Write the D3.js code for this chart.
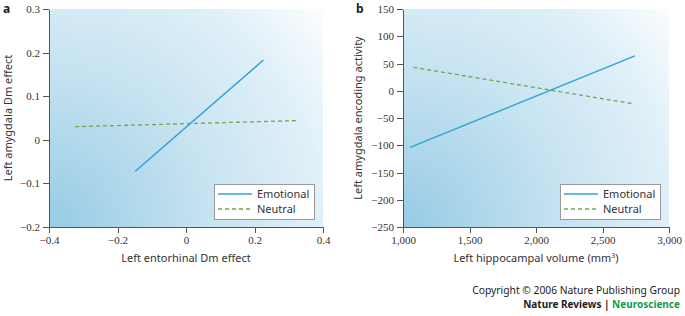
<!DOCTYPE html>
<html>
<head>
<meta charset="utf-8">
<script src="https://cdn.jsdelivr.net/npm/d3@7"></script>
<style>
  body { margin: 0; background: #fff; }
  .axis path, .axis line { stroke: #555; stroke-width: 1; shape-rendering: crispEdges; }
  .axis text { font-family: "Liberation Serif", serif; font-size: 11px; fill: #333; }
  .title { font-family: "Noto Sans", sans-serif; font-size: 11px; fill: #333; }
  .legend text { font-family: "Noto Sans", sans-serif; font-size: 11px; fill: #333; }
</style>
</head>
<body>
<svg id="chart" width="685" height="316"></svg>
<script>
  // panel a
  var aXTicks = [-0.4, -0.2, 0, 0.2, 0.4];
  var aYTicks = [-0.2, -0.1, 0, 0.1, 0.2, 0.3];
  var aEmotionalX = [-0.148, 0.226];
  var aEmotionalY = [-0.072, 0.183];
  var aNeutralX = [-0.324, 0.321];
  var aNeutralY = [0.030, 0.044];

  // panel b
  var bXTicks = [1000, 1500, 2000, 2500, 3000];
  var bYTicks = [-250, -200, -150, -100, -50, 0, 50, 100, 150];
  var bEmotionalX = [1053, 2744];
  var bEmotionalY = [-104, 64];
  var bNeutralX = [1078, 2732];
  var bNeutralY = [43, -24];

  var seriesNames = ['Emotional', 'Neutral'];

  const COLOR_EMO = '#2fa4d4';
  const COLOR_NEU = '#6fa84e';

  var svg = d3.select('#chart');

  function drawPanel(cfg) {
    var x = d3.scaleLinear().domain(cfg.xDomain).range([cfg.left, cfg.right]);
    var y = d3.scaleLinear().domain(cfg.yDomain).range([cfg.bottom, cfg.top]);

    var grad = svg.append('defs').append('radialGradient')
      .attr('id', 'bg-' + cfg.id)
      .attr('gradientUnits', 'userSpaceOnUse')
      .attr('cx', cfg.left).attr('cy', cfg.bottom)
      .attr('r', 360);
    grad.append('stop').attr('offset', 0).attr('stop-color', '#97cbe5');
    grad.append('stop').attr('offset', 0.45).attr('stop-color', '#c7e3f1');
    grad.append('stop').attr('offset', 0.75).attr('stop-color', '#e0f0f8');
    grad.append('stop').attr('offset', 1).attr('stop-color', '#ffffff');

    svg.append('rect')
      .attr('x', cfg.left).attr('y', cfg.top)
      .attr('width', cfg.right - cfg.left)
      .attr('height', cfg.bottom - cfg.top)
      .style('fill', 'url(#bg-' + cfg.id + ')');

    svg.append('g')
      .attr('class', 'axis')
      .attr('transform', 'translate(0,' + cfg.bottom + ')')
      .call(d3.axisBottom(x).tickValues(cfg.xTicks).tickFormat(cfg.xFormat)
        .tickSize(6).tickSizeOuter(0).tickPadding(3));

    svg.append('g')
      .attr('class', 'axis')
      .attr('transform', 'translate(' + cfg.left + ',0)')
      .call(d3.axisLeft(y).tickValues(cfg.yTicks).tickFormat(cfg.yFormat)
        .tickSize(6).tickSizeOuter(0).tickPadding(3));

    var line = d3.line()
      .x(function (d) { return x(d[0]); })
      .y(function (d) { return y(d[1]); });

    svg.append('path')
      .datum(d3.zip(cfg.neuX, cfg.neuY))
      .attr('d', line)
      .style('fill', 'none')
      .style('stroke', COLOR_NEU)
      .style('stroke-width', 1.3)
      .style('stroke-dasharray', '4,3');

    svg.append('path')
      .datum(d3.zip(cfg.emoX, cfg.emoY))
      .attr('d', line)
      .style('fill', 'none')
      .style('stroke', COLOR_EMO)
      .style('stroke-width', 1.5);

    // panel letter
    svg.append('text')
      .attr('x', cfg.letterX).attr('y', 13)
      .style('font-family', '"Noto Sans", sans-serif')
      .style('font-weight', 'bold')
      .style('font-size', '12px')
      .style('fill', '#222')
      .text(cfg.id);

    svg.append('text')
      .attr('class', 'title')
      .attr('x', (cfg.left + cfg.right) / 2)
      .attr('y', 262)
      .attr('text-anchor', 'middle')
      .html(cfg.xTitle);

    svg.append('text')
      .attr('class', 'title')
      .attr('transform', 'translate(' + cfg.yTitleX + ',' + ((cfg.top + cfg.bottom) / 2) + ') rotate(-90)')
      .attr('text-anchor', 'middle')
      .text(cfg.yTitle);

    // legend
    var lg = svg.append('g').attr('class', 'legend');
    lg.append('rect')
      .attr('x', cfg.right - 109).attr('y', 184)
      .attr('width', 100).attr('height', 35)
      .style('fill', '#fff')
      .style('stroke', '#999')
      .style('stroke-width', 1)
      .style('shape-rendering', 'crispEdges');
    seriesNames.forEach(function (name, i) {
      var ly = 194 + i * 15;
      lg.append('line')
        .attr('x1', cfg.right - 105).attr('x2', cfg.right - 71)
        .attr('y1', ly).attr('y2', ly)
        .style('stroke', i === 0 ? COLOR_EMO : COLOR_NEU)
        .style('stroke-width', i === 0 ? 1.5 : 1.3)
        .style('stroke-dasharray', i === 0 ? null : '4,3');
      lg.append('text')
        .attr('x', cfg.right - 66).attr('y', ly + 4)
        .text(name);
    });
  }

  drawPanel({
    id: 'a', left: 49, right: 323, top: 9, bottom: 227, letterX: 3, yTitleX: 12,
    xDomain: [-0.4, 0.4], yDomain: [-0.2, 0.3],
    xTicks: aXTicks, yTicks: aYTicks,
    xFormat: d3.format(''), yFormat: d3.format(''),
    emoX: aEmotionalX, emoY: aEmotionalY, neuX: aNeutralX, neuY: aNeutralY,
    xTitle: 'Left entorhinal Dm effect', yTitle: 'Left amygdala Dm effect'
  });

  drawPanel({
    id: 'b', left: 403, right: 669, top: 9, bottom: 227, letterX: 356, yTitleX: 362,
    xDomain: [1000, 3000], yDomain: [-250, 150],
    xTicks: bXTicks, yTicks: bYTicks,
    xFormat: d3.format(','), yFormat: d3.format(''),
    emoX: bEmotionalX, emoY: bEmotionalY, neuX: bNeutralX, neuY: bNeutralY,
    xTitle: 'Left hippocampal volume (mm<tspan dy="-4" font-size="7px">3</tspan><tspan dy="4">)</tspan>',
    yTitle: 'Left amygdala encoding activity'
  });

  // credit
  svg.append('text')
    .attr('x', 680).attr('y', 294)
    .attr('text-anchor', 'end')
    .style('font-family', '"Noto Sans", sans-serif')
    .style('font-size', '10.3px')
    .style('fill', '#222')
    .text('Copyright \u00a9 2006 Nature Publishing Group');

  var credit = svg.append('text')
    .attr('x', 680).attr('y', 308)
    .attr('text-anchor', 'end')
    .style('font-family', '"Noto Sans", sans-serif')
    .style('font-size', '10px')
    .style('font-weight', 'bold')
    .style('fill', '#222');
  credit.append('tspan').text('Nature Reviews | ');
  credit.append('tspan').style('fill', '#139a52').text('Neuroscience');
</script>
</body>
</html>
